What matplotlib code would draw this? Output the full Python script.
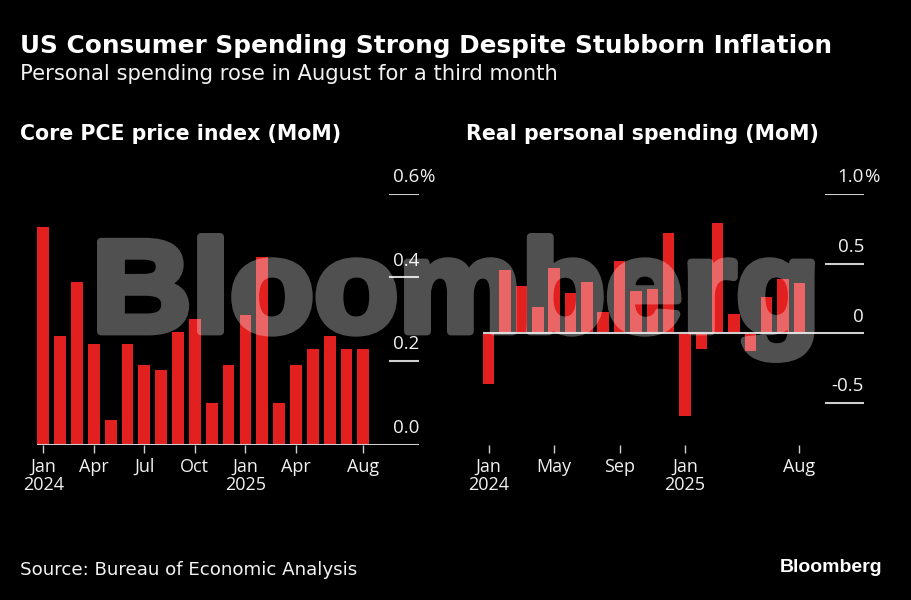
import matplotlib
matplotlib.use("Agg")
import matplotlib.pyplot as plt
from matplotlib.font_manager import FontProperties
from matplotlib.textpath import TextPath
from matplotlib.patches import PathPatch
from matplotlib.transforms import Affine2D

# --- data (month-on-month % change, Jan 2024 .. Aug 2025) ---
core_pce = [0.52, 0.26, 0.39, 0.24, 0.06, 0.24, 0.19, 0.18, 0.27, 0.30,
            0.10, 0.19, 0.31, 0.45, 0.10, 0.19, 0.23, 0.26, 0.23, 0.23]
real_spending = [-0.36, 0.45, 0.34, 0.19, 0.47, 0.29, 0.37, 0.15, 0.52, 0.30,
                 0.32, 0.72, -0.59, -0.11, 0.79, 0.14, -0.13, 0.26, 0.39, 0.36]

left_ticks = [0, 3, 6, 9, 12, 15, 19]
left_ticklabels = ["Jan\n2024", "Apr", "Jul", "Oct", "Jan\n2025", "Apr", "Aug"]
right_ticks = [0, 4, 8, 12, 19]
right_ticklabels = ["Jan\n2024", "May", "Sep", "Jan\n2025", "Aug"]

left_levels = [0.0, 0.2, 0.4, 0.6]
left_level_labels = ["0.0", "0.2", "0.4", "0.6"]
right_levels = [-0.5, 0.0, 0.5, 1.0]
right_level_labels = ["-0.5", "0", "0.5", "1.0"]

RED = "#e1201f"
BG = "black"
TXT = "#f2f2f2"
GRID = "#cfcfcf"
W, H = 911, 600

fig = plt.figure(figsize=(W / 100, H / 100), dpi=100, facecolor=BG)

ax1 = fig.add_axes([37.3 / W, 1 - 445 / H, 381.7 / W, 251.3 / H])
ax2 = fig.add_axes([483 / W, 1 - 445 / H, 381 / W, 251.3 / H])


def style_panel(ax, values, ylim, xmax, ticks, ticklabels, levels, labels, grid_from, grid_levels):
    ax.set_facecolor(BG)
    x = range(len(values))
    ax.bar(x, values, width=0.7, color=RED, zorder=2)
    ax.set_xlim(-0.35, xmax)
    ax.set_ylim(*ylim)
    for s in ax.spines.values():
        s.set_visible(False)
    ax.axhline(0, color=GRID, lw=1.5, zorder=3)
    for lv in grid_levels:
        ax.axhline(lv, xmin=grid_from, xmax=1, color=GRID, lw=1.5, zorder=3)
    ax.set_yticks([])
    ax.set_xticks(ticks)
    ax.set_xticklabels(ticklabels, fontsize=13, color=TXT, family="Open Sans",
                       linespacing=1.05)
    ax.tick_params(axis="x", length=6, width=1, color=GRID, pad=3)
    for lv, lab in zip(levels, labels):
        ax.annotate(lab, xy=(1, lv), xycoords=("axes fraction", "data"),
                    xytext=(0, 8.5), textcoords="offset points",
                    ha="right", va="baseline", fontsize=13.5, color=TXT,
                    family="Open Sans", zorder=6)
    ax.annotate("%", xy=(1, levels[-1]), xycoords=("axes fraction", "data"),
                xytext=(0, 8.5), textcoords="offset points",
                ha="left", va="baseline", fontsize=13.5, color=TXT,
                family="Open Sans", zorder=6)


style_panel(ax1, core_pce, (0, 0.6), 22.3, left_ticks, left_ticklabels,
            left_levels, left_level_labels, 0.924, [0.2, 0.4, 0.6])
style_panel(ax2, real_spending, (-0.8, 1.0), 22.95, right_ticks, right_ticklabels,
            right_levels, right_level_labels, 0.90, [-0.5, 0.5, 1.0])

# --- titles ---
fig.text(20 / W, 1 - 53.3 / H, "US Consumer Spending Strong Despite Stubborn Inflation",
         fontsize=17.8, fontweight="bold", color="white", family="DejaVu Sans", va="baseline")
fig.text(20 / W, 1 - 80 / H, "Personal spending rose in August for a third month",
         fontsize=15.2, color=TXT, family="DejaVu Sans", va="baseline")
fig.text(20 / W, 1 - 140 / H, "Core PCE price index (MoM)",
         fontsize=14.8, fontweight="bold", color="white", family="DejaVu Sans", va="baseline")
fig.text(466 / W, 1 - 140 / H, "Real personal spending (MoM)",
         fontsize=14.8, fontweight="bold", color="white", family="DejaVu Sans", va="baseline")
fig.text(20 / W, 1 - 575 / H, "Source: Bureau of Economic Analysis",
         fontsize=13.15, color=TXT, family="DejaVu Sans", va="baseline")
fig.text(882 / W, 1 - 572 / H, "Bloomberg", fontsize=14, fontweight="bold",
         color="white", family="Liberation Sans", ha="right", va="baseline")

# --- watermark, fitted to its box in pixels, thickened with a stroke ---
tp = TextPath((0, 0), "Bloomberg", size=100,
              prop=FontProperties(family="Liberation Sans", weight="bold"))
ext = tp.get_extents()
stroke = 4  # px added on each side by the outline
bx0, by0, bx1, by1 = 97 + stroke, 233 + stroke, 815 - stroke, 363 - stroke
fx0, fy0 = bx0 / W, 1 - by1 / H
fw, fh = (bx1 - bx0) / W, (by1 - by0) / H
tr = (Affine2D().translate(-ext.x0, -ext.y0)
      .scale(fw / ext.width, fh / ext.height)
      .translate(fx0, fy0) + fig.transFigure)


def fade(img, dpi):
    img[..., 3] *= 0.32
    return img, 0, 0


wm = PathPatch(tp, transform=tr, facecolor="white", edgecolor="white",
               linewidth=2 * stroke * 0.72, joinstyle="round", zorder=5)
wm.set_agg_filter(fade)
fig.add_artist(wm)

fig.savefig("out.png", dpi=100, facecolor=BG)
